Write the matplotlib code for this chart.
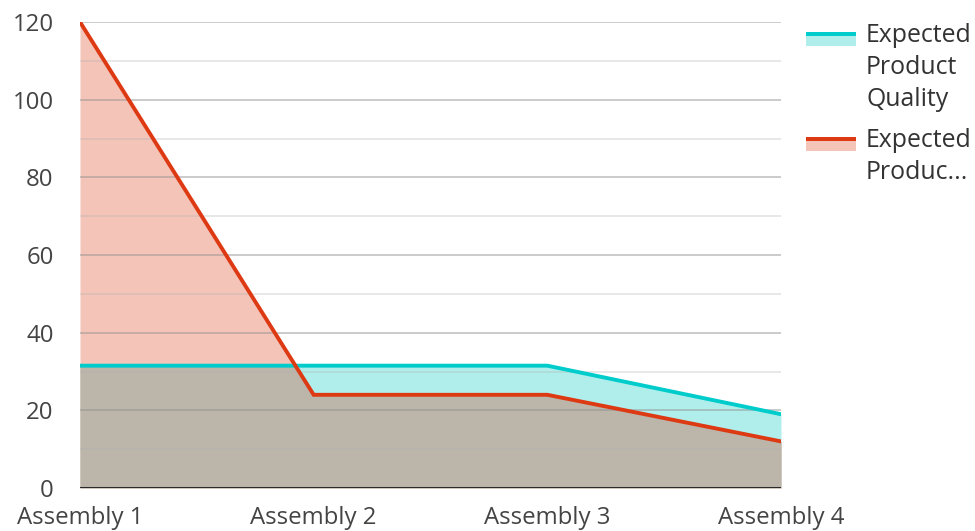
import matplotlib.pyplot as plt
import numpy as np
from matplotlib.patches import Rectangle

plt.rcParams['font.family'] = ['Open Sans', 'DejaVu Sans']

etapas = ['Assembly 1', 'Assembly 2', 'Assembly 3', 'Assembly 4']
qualidade = [31.5, 31.5, 31.5, 19]
producao = [120, 24, 24, 12]
nomes = ['Expected\nProduct\nQuality', 'Expected\nProduc...']

cor_qual = '#00cccc'
cor_qual_fill = '#b0eeec'
cor_prod = '#dd3a14'
cor_prod_fill = '#f4c4b8'
cor_comum = '#bcb5aa'

fig = plt.figure(figsize=(9.75, 5.31), dpi=100)
ax = fig.add_axes([80 / 975, 43 / 531, 701 / 975, 466 / 531])

x = np.arange(len(etapas))
q = np.array(qualidade)
p = np.array(producao)

# areas: each series, then the shared part under both
ax.fill_between(x, 0, q, color=cor_qual_fill, lw=0, zorder=1)
ax.fill_between(x, 0, p, color=cor_prod_fill, lw=0, zorder=1)
xs = np.linspace(0, len(etapas) - 1, 601)
ax.fill_between(xs, 0, np.minimum(np.interp(xs, x, q), np.interp(xs, x, p)),
                color=cor_comum, lw=0, zorder=2)

# grid over the fills
for v in range(10, 121, 20):
    ax.axhline(v, color='#b0b0b0', alpha=0.35, lw=1.2, zorder=3)
for v in range(20, 121, 20):
    ax.axhline(v, color='#909090', alpha=0.55, lw=1.2, zorder=3)

ax.plot(x, q, color=cor_qual, lw=2.8, zorder=5, solid_joinstyle='miter')
ax.plot(x, p, color=cor_prod, lw=2.8, zorder=6, solid_joinstyle='miter')
ax.axhline(0, color='#2a2a2a', lw=2.2, zorder=7)

ax.set_xlim(0, 3)
ax.set_ylim(0, 120)
ax.set_xticks(x)
ax.set_xticklabels(etapas)
ax.set_yticks(range(0, 121, 20))
for s in ax.spines.values():
    s.set_visible(False)
ax.tick_params(length=0, labelsize=17.3, colors='#444444')
ax.tick_params(axis='y', pad=19)
ax.tick_params(axis='x', pad=13)
ax.set_facecolor('white')

# legend
for (y_linha, y_txt), cor, cor_f, nome in zip([(33.5, 23), (138.5, 128)],
                                          [cor_qual, cor_prod],
                                          [cor_qual_fill, cor_prod_fill], nomes):
    fig.patches.append(Rectangle((806 / 975, 1 - (y_linha + 12) / 531), 50 / 975, 10 / 531,
                                 transform=fig.transFigure, color=cor_f, lw=0))
    fig.patches.append(Rectangle((806 / 975, 1 - (y_linha + 2) / 531), 50 / 975, 4 / 531,
                                 transform=fig.transFigure, color=cor, lw=0))
    fig.text(866 / 975, 1 - y_txt / 531, nome, fontsize=17.9, color='#333333',
             va='top', ha='left', linespacing=1.38)

plt.savefig('out.png', dpi=100)
